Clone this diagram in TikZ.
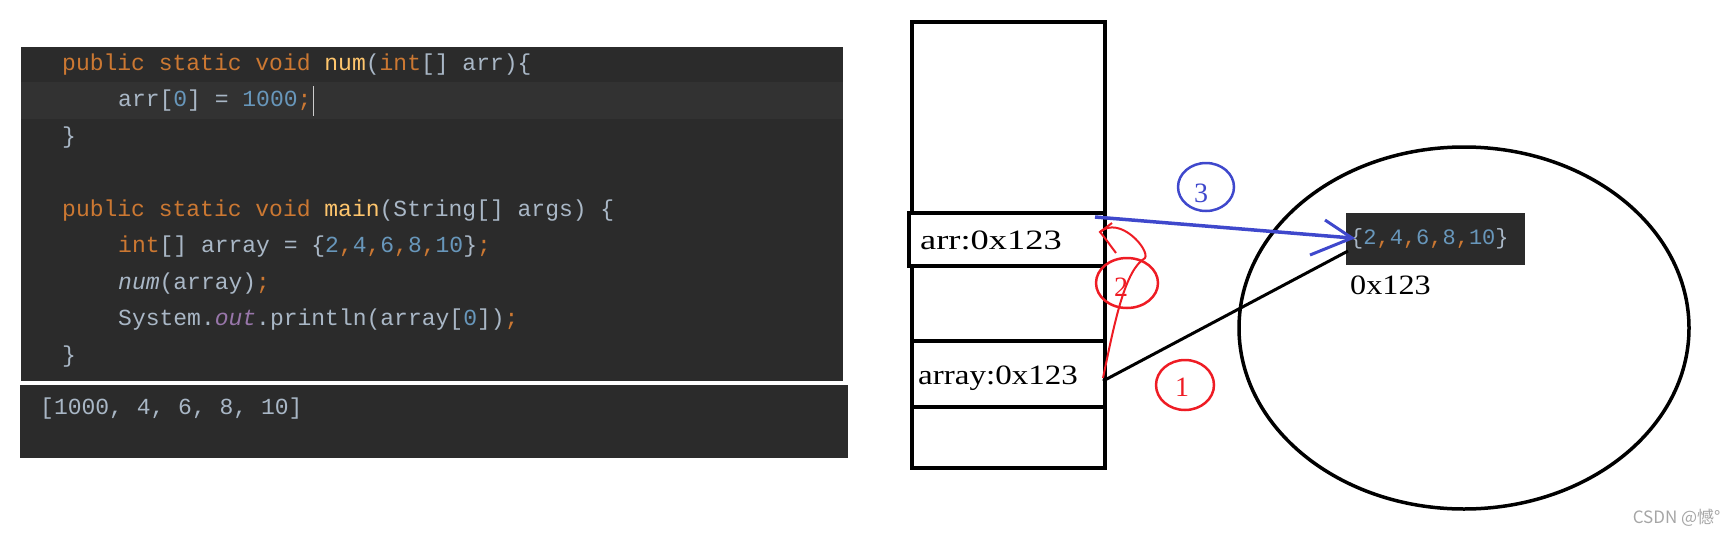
\documentclass[tikz,border=0pt]{standalone}
\usepackage{fontspec}
\usepackage{graphicx}
\setmainfont{Liberation Serif}
\setmonofont{Liberation Mono}
\newfontfamily\cjk{Noto Sans CJK SC}
\definecolor{bg}{HTML}{2B2B2B}
\definecolor{hl}{HTML}{323232}
\definecolor{kw}{HTML}{CC7832}
\definecolor{fn}{HTML}{FFC66D}
\definecolor{tx}{HTML}{A9B7C6}
\definecolor{nm}{HTML}{6897BB}
\definecolor{pu}{HTML}{9876AA}
\definecolor{myred}{HTML}{EE1C24}
\definecolor{myblue}{HTML}{3F48CC}
\tikzset{code/.style={anchor=west,inner sep=0,font=\ttfamily\fontsize{23}{23}\selectfont,text=tx},
 lbl/.style={anchor=west,inner sep=0,font=\fontsize{28}{28}\selectfont},
 num/.style={font=\fontsize{28}{28}\selectfont,inner sep=0},
 cell/.style={draw,line width=3.5pt}}
\begin{document}
\begin{tikzpicture}[x=1pt,y=-1pt]
\useasboundingbox (0,0) rectangle (1734,536);
% code panel
\fill[bg] (21,47) rectangle (843,381);
\fill[hl] (21,82) rectangle (843,119);
\fill[bg] (20,385) rectangle (848,458);
\node[code] (l1) at (62,65) {\textcolor{kw}{public static void} \textcolor{fn}{num}(\textcolor{kw}{int}[] arr)\{};
\node[code] (l2) at (118,101) {arr[\textcolor{nm}{0}] = \textcolor{nm}{1000}\textcolor{kw}{;}};
\draw[white!80!black,line width=1pt] (l2.east) ++(2,-15) -- ++(0,30);
\node[code] (l3) at (62,138) {\}};
\node[code] (l4) at (62,211) {\textcolor{kw}{public static void} \textcolor{fn}{main}(String[] args) \{};
\node[code] (l5) at (118,247) {\textcolor{kw}{int}[] array = \{\textcolor{nm}{2}\textcolor{kw}{,}\textcolor{nm}{4}\textcolor{kw}{,}\textcolor{nm}{6}\textcolor{kw}{,}\textcolor{nm}{8}\textcolor{kw}{,}\textcolor{nm}{10}\}\textcolor{kw}{;}};
\node[code] (l6) at (118,284) {\textit{num}(array)\textcolor{kw}{;}};
\node[code] (l7) at (118,320) {System.\textcolor{pu}{\textit{out}}.println(array[\textcolor{nm}{0}])\textcolor{kw}{;}};
\node[code] (l8) at (62,357) {\}};
\node[code] (out) at (40,409) {[1000, 4, 6, 8, 10]};
% stack
\draw[cell] (912,22) rectangle (1105,468);
\draw[cell,fill=white] (909,213) rectangle (1105,266);
\draw[cell,fill=white] (912,341) rectangle (1105,407);
\node[lbl] (arr) at (920,240) {\scalebox{1.3}[1]{arr:0x123}};
\node[lbl] (array) at (918,378) {\scalebox{1.18}[1]{array:0x123}};
% heap
\draw[line width=3.5pt] (1464,328) ellipse (225 and 181);
\fill[bg] (1346,213) rectangle (1525,265);
\node[code,font=\ttfamily\fontsize{22}{22}\selectfont] (val) at (1350,239) {\{\textcolor{nm}{2}\textcolor{kw}{,}\textcolor{nm}{4}\textcolor{kw}{,}\textcolor{nm}{6}\textcolor{kw}{,}\textcolor{nm}{8}\textcolor{kw}{,}\textcolor{nm}{10}\}};
\node[lbl] (addr) at (1350,285) {\scalebox{1.15}[1]{0x123}};
\coordinate (p1) at (1103,381);
\coordinate (p2) at (1348,251);
\draw[line width=3pt] (p1) -- (p2);
% blue arrow
\coordinate (b1) at (1095,217);
\coordinate (b2) at (1352,238);
\draw[myblue,line width=3.5pt] (b1) -- (b2);
\draw[myblue,line width=3pt] (1325,220) -- (b2) -- (1310,255);
% red curve
\draw[myred,line width=2pt] (1103,378) .. controls (1115,320) and (1125,270) .. (1145,258) .. controls (1150,250) and (1120,215) .. (1100,232);
\draw[myred,line width=2pt] (1116,253) .. controls (1110,245) and (1105,238) .. (1100,232) -- (1112,223);
% numbered circles
\draw[myblue,line width=2.5pt] (1206,187) ellipse (28 and 24);
\node[myblue,num] (n3) at (1201,193) {3};
\draw[myred,line width=2.5pt] (1127,283) ellipse (31 and 25);
\node[myred,num] (n2) at (1121,287) {2};
\draw[myred,line width=2.5pt] (1185,385) ellipse (29 and 25);
\node[myred,num] (n1) at (1182,387) {1};
\node[anchor=east,text=gray!70,font=\cjk\fontsize{17}{17}\selectfont] (wm) at (1724,518) {CSDN @憾°};
\end{tikzpicture}
\end{document}
